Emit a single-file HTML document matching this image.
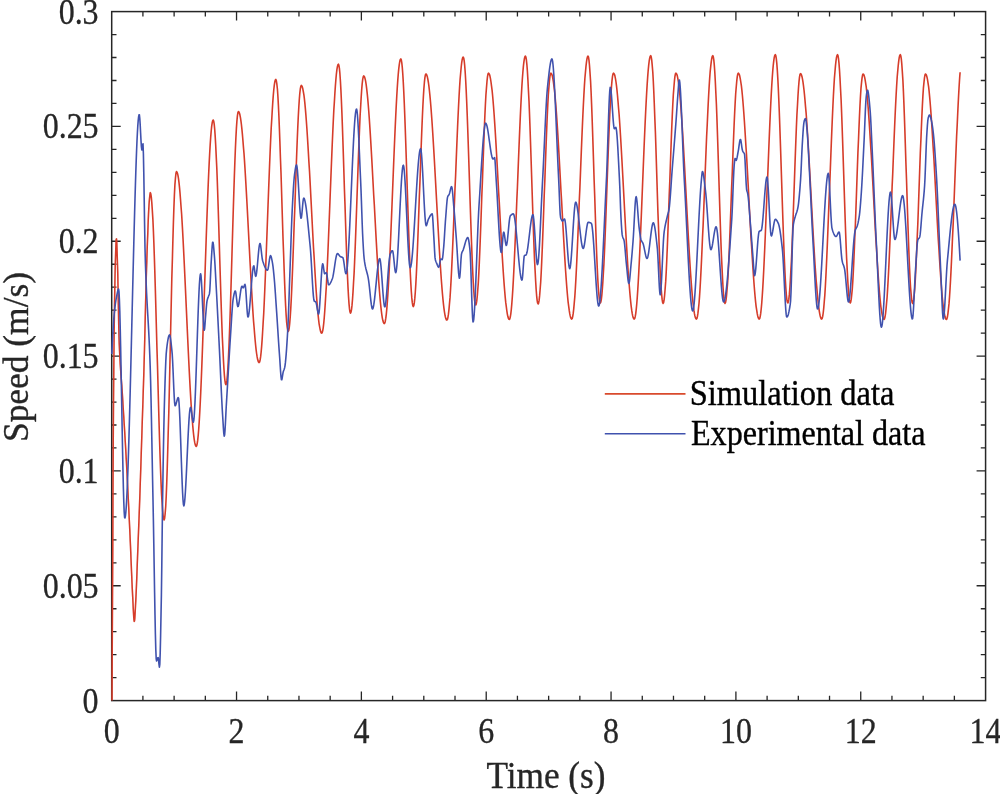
<!DOCTYPE html>
<html><head><meta charset="utf-8"><style>html,body{margin:0;padding:0;background:#fff;width:1000px;height:794px;overflow:hidden}svg{display:block}</style></head>
<body><svg width="1000" height="794" viewBox="0 0 1000 794"><rect x="0" y="0" width="1000" height="794" fill="#fff"/><path d="M142.91 700.60V695.80M142.91 11.59V16.39M174.12 700.60V695.80M174.12 11.59V16.39M205.33 700.60V695.80M205.33 11.59V16.39M236.54 700.60V691.60M236.54 11.59V20.59M267.75 700.60V695.80M267.75 11.59V16.39M298.96 700.60V695.80M298.96 11.59V16.39M330.17 700.60V695.80M330.17 11.59V16.39M361.38 700.60V691.60M361.38 11.59V20.59M392.59 700.60V695.80M392.59 11.59V16.39M423.80 700.60V695.80M423.80 11.59V16.39M455.01 700.60V695.80M455.01 11.59V16.39M486.22 700.60V691.60M486.22 11.59V20.59M517.43 700.60V695.80M517.43 11.59V16.39M548.64 700.60V695.80M548.64 11.59V16.39M579.85 700.60V695.80M579.85 11.59V16.39M611.06 700.60V691.60M611.06 11.59V20.59M642.27 700.60V695.80M642.27 11.59V16.39M673.48 700.60V695.80M673.48 11.59V16.39M704.69 700.60V695.80M704.69 11.59V16.39M735.90 700.60V691.60M735.90 11.59V20.59M767.11 700.60V695.80M767.11 11.59V16.39M798.32 700.60V695.80M798.32 11.59V16.39M829.53 700.60V695.80M829.53 11.59V16.39M860.74 700.60V691.60M860.74 11.59V20.59M891.95 700.60V695.80M891.95 11.59V16.39M923.16 700.60V695.80M923.16 11.59V16.39M954.37 700.60V695.80M954.37 11.59V16.39M111.70 677.63H116.50M985.58 677.63H980.78M111.70 654.67H116.50M985.58 654.67H980.78M111.70 631.70H116.50M985.58 631.70H980.78M111.70 608.73H116.50M985.58 608.73H980.78M111.70 585.76H120.70M985.58 585.76H976.58M111.70 562.80H116.50M985.58 562.80H980.78M111.70 539.83H116.50M985.58 539.83H980.78M111.70 516.86H116.50M985.58 516.86H980.78M111.70 493.90H116.50M985.58 493.90H980.78M111.70 470.93H120.70M985.58 470.93H976.58M111.70 447.96H116.50M985.58 447.96H980.78M111.70 425.00H116.50M985.58 425.00H980.78M111.70 402.03H116.50M985.58 402.03H980.78M111.70 379.06H116.50M985.58 379.06H980.78M111.70 356.10H120.70M985.58 356.10H976.58M111.70 333.13H116.50M985.58 333.13H980.78M111.70 310.16H116.50M985.58 310.16H980.78M111.70 287.19H116.50M985.58 287.19H980.78M111.70 264.23H116.50M985.58 264.23H980.78M111.70 241.26H120.70M985.58 241.26H976.58M111.70 218.29H116.50M985.58 218.29H980.78M111.70 195.33H116.50M985.58 195.33H980.78M111.70 172.36H116.50M985.58 172.36H980.78M111.70 149.39H116.50M985.58 149.39H980.78M111.70 126.43H120.70M985.58 126.43H976.58M111.70 103.46H116.50M985.58 103.46H980.78M111.70 80.49H116.50M985.58 80.49H980.78M111.70 57.52H116.50M985.58 57.52H980.78M111.70 34.56H116.50M985.58 34.56H980.78" stroke="#262626" stroke-width="1.3" fill="none"/><rect x="111.70" y="11.59" width="873.88" height="689.01" fill="none" stroke="#262626" stroke-width="1.5"/><path d="M112.0 700.6 112.2 650.1 112.5 600.5 112.8 549.1 113.0 490.7 113.2 442.7 113.5 403.2 113.8 372.5 114.0 347.1 114.2 325.8 114.5 307.3 114.8 290.6 115.0 276.5 115.2 266.2 115.5 257.4 115.8 249.4 116.0 243.1 116.2 239.3 116.5 238.9 116.8 242.3 117.0 248.5 117.2 256.3 117.5 264.7 117.8 273.6 118.0 285.5 118.2 299.3 118.5 313.6 118.8 326.7 119.0 337.0 119.2 343.8 119.5 349.7 119.8 355.0 120.0 359.8 120.2 364.1 120.5 368.1 120.8 371.8 121.0 375.3 121.2 378.7 121.5 382.1 121.8 385.4 122.0 388.9 122.2 392.5 122.5 396.4 122.8 400.5 123.0 404.6 123.2 408.7 123.5 412.7 123.8 416.7 124.0 420.8 124.2 424.8 124.5 428.9 124.8 433.0 125.0 437.1 125.2 441.3 125.5 445.6 125.8 449.9 126.0 454.4 126.2 458.9 126.5 463.5 126.8 468.2 127.0 473.0 127.2 477.9 127.5 482.8 127.8 487.8 128.0 492.9 128.2 498.0 128.5 503.1 128.8 508.3 129.0 513.6 129.2 518.9 129.5 524.2 129.8 529.6 130.0 535.0 130.2 540.6 130.5 546.4 130.8 552.5 131.0 558.7 131.2 564.8 131.5 571.0 131.8 576.9 132.0 582.7 132.2 588.1 132.5 593.1 132.8 597.9 133.0 603.0 133.2 608.2 133.5 613.1 133.8 617.2 134.0 620.1 134.2 621.5 134.5 620.9 134.8 618.6 135.0 615.1 135.2 610.7 135.5 605.8 135.8 600.9 136.0 596.1 136.2 590.8 136.5 584.8 136.8 578.4 137.0 571.7 137.2 564.8 137.5 558.0 137.8 551.3 138.0 544.9 138.2 538.4 138.5 532.0 138.8 525.6 139.0 519.0 139.2 512.4 139.5 505.6 139.8 498.6 140.0 491.4 140.2 484.1 140.5 476.5 140.8 468.9 141.0 461.2 141.2 453.4 141.5 445.6 141.8 437.8 142.0 430.0 142.2 422.3 142.5 414.6 142.8 407.0 143.0 399.3 143.2 391.5 143.5 383.6 143.8 375.4 144.0 367.0 144.2 358.2 144.5 348.7 144.8 338.6 145.0 328.2 145.2 317.5 145.5 307.0 145.8 296.7 146.0 287.1 146.2 278.3 146.5 270.0 146.8 262.1 147.0 254.5 147.2 247.2 147.5 240.3 147.8 233.7 148.0 227.0 148.2 220.5 148.5 214.4 148.8 209.1 149.0 205.0 149.2 201.7 149.5 198.7 149.8 196.1 150.0 194.1 150.2 192.9 150.3 192.7 150.8 193.8 151.3 197.1 151.8 202.6 152.3 210.1 152.9 219.6 153.4 231.0 153.9 244.0 154.4 258.6 154.9 274.5 155.4 291.5 155.9 309.4 156.4 327.9 156.9 346.8 157.5 365.9 158.0 384.8 158.5 403.3 159.0 421.2 159.5 438.2 160.0 454.1 160.5 468.7 161.0 481.7 161.5 493.1 162.1 502.6 162.6 510.1 163.1 515.6 163.6 518.9 164.1 520.0 164.6 518.5 165.1 514.1 165.7 506.7 166.2 496.7 166.7 484.0 167.2 469.0 167.7 451.8 168.2 432.9 168.8 412.5 169.3 390.9 169.8 368.5 170.3 345.8 170.8 323.1 171.3 300.7 171.8 279.1 172.4 258.7 172.9 239.8 173.4 222.6 173.9 207.6 174.4 194.9 174.9 184.9 175.5 177.5 176.0 173.1 176.5 171.6 177.0 172.0 177.5 173.4 178.0 175.6 178.5 178.7 179.0 182.6 179.5 187.3 180.0 192.9 180.5 199.2 181.0 206.2 181.6 213.8 182.1 222.1 182.6 230.9 183.1 240.3 183.6 250.1 184.1 260.3 184.6 270.8 185.1 281.5 185.6 292.4 186.1 303.5 186.6 314.5 187.1 325.6 187.6 336.5 188.1 347.2 188.6 357.7 189.1 367.9 189.6 377.7 190.1 387.1 190.6 395.9 191.1 404.2 191.7 411.8 192.2 418.8 192.7 425.1 193.2 430.7 193.7 435.4 194.2 439.3 194.7 442.4 195.2 444.6 195.7 446.0 196.2 446.4 196.7 445.7 197.2 443.6 197.7 440.2 198.2 435.4 198.7 429.3 199.2 422.0 199.7 413.4 200.2 403.8 200.7 393.1 201.2 381.5 201.7 369.1 202.2 355.9 202.7 342.2 203.2 327.9 203.7 313.2 204.2 298.3 204.7 283.2 205.2 268.1 205.7 253.2 206.2 238.5 206.7 224.2 207.2 210.5 207.7 197.3 208.2 184.9 208.7 173.3 209.2 162.6 209.7 153.0 210.2 144.4 210.7 137.1 211.2 131.0 211.7 126.2 212.2 122.8 212.7 120.7 213.2 120.0 213.7 121.0 214.2 124.2 214.7 129.3 215.2 136.4 215.7 145.3 216.2 155.9 216.8 168.0 217.3 181.4 217.8 196.0 218.3 211.5 218.8 227.6 219.3 244.0 219.8 260.7 220.3 277.1 220.8 293.2 221.3 308.7 221.8 323.3 222.3 336.7 222.9 348.8 223.4 359.4 223.9 368.3 224.4 375.4 224.9 380.5 225.4 383.7 225.9 384.7 226.4 383.6 226.9 380.4 227.4 375.1 227.9 367.8 228.4 358.6 228.9 347.7 229.4 335.2 229.9 321.3 230.4 306.3 230.9 290.3 231.4 273.7 231.9 256.7 232.4 239.5 232.9 222.5 233.4 205.9 233.9 189.9 234.4 174.9 234.9 161.0 235.4 148.5 235.9 137.6 236.4 128.4 236.9 121.1 237.4 115.8 237.9 112.6 238.4 111.5 238.9 111.9 239.4 113.0 239.9 114.8 240.4 117.4 240.9 120.6 241.4 124.5 241.9 129.1 242.4 134.4 242.9 140.2 243.4 146.6 244.0 153.5 244.5 160.9 245.0 168.8 245.5 177.1 246.0 185.7 246.5 194.6 247.0 203.8 247.5 213.1 248.0 222.7 248.5 232.2 249.0 241.9 249.5 251.4 250.0 261.0 250.5 270.3 251.0 279.5 251.5 288.4 252.0 297.0 252.5 305.3 253.0 313.2 253.5 320.6 254.1 327.5 254.6 333.9 255.1 339.7 255.6 345.0 256.1 349.6 256.6 353.5 257.1 356.7 257.6 359.3 258.1 361.1 258.6 362.2 259.1 362.6 259.6 362.0 260.1 360.0 260.6 356.9 261.1 352.5 261.6 346.9 262.1 340.1 262.6 332.3 263.1 323.5 263.7 313.7 264.2 303.1 264.7 291.8 265.2 279.8 265.7 267.3 266.2 254.4 266.7 241.2 267.2 227.7 267.7 214.3 268.2 200.8 268.7 187.6 269.2 174.7 269.7 162.2 270.2 150.2 270.7 138.9 271.2 128.3 271.8 118.5 272.3 109.7 272.8 101.9 273.3 95.1 273.8 89.5 274.3 85.1 274.8 82.0 275.3 80.0 275.8 79.4 276.3 80.5 276.8 83.7 277.4 89.0 277.9 96.3 278.4 105.4 278.9 116.3 279.4 128.7 279.9 142.4 280.4 157.2 281.0 172.8 281.5 189.0 282.0 205.4 282.5 221.8 283.0 238.0 283.6 253.6 284.1 268.4 284.6 282.1 285.1 294.5 285.6 305.4 286.1 314.5 286.6 321.8 287.2 327.1 287.7 330.3 288.2 331.4 288.7 330.5 289.2 327.8 289.7 323.4 290.2 317.3 290.7 309.6 291.2 300.5 291.7 290.0 292.2 278.3 292.7 265.6 293.2 252.0 293.7 237.8 294.2 223.2 294.8 208.4 295.3 193.6 295.8 179.0 296.3 164.8 296.8 151.2 297.3 138.5 297.8 126.8 298.3 116.3 298.8 107.2 299.3 99.5 299.8 93.4 300.3 89.0 300.8 86.3 301.3 85.4 301.8 85.8 302.3 86.9 302.8 88.8 303.3 91.5 303.9 94.8 304.4 98.9 304.9 103.7 305.4 109.1 305.9 115.1 306.4 121.7 306.9 128.8 307.4 136.5 307.9 144.6 308.4 153.1 308.9 161.9 309.5 171.0 310.0 180.4 310.5 189.9 311.0 199.6 311.5 209.3 312.0 219.0 312.5 228.7 313.0 238.2 313.5 247.6 314.1 256.7 314.6 265.5 315.1 274.0 315.6 282.1 316.1 289.8 316.6 296.9 317.1 303.5 317.6 309.5 318.1 314.9 318.6 319.7 319.1 323.8 319.7 327.1 320.2 329.8 320.7 331.7 321.2 332.8 321.7 333.2 322.2 332.6 322.7 330.8 323.2 327.8 323.7 323.6 324.2 318.2 324.7 311.8 325.2 304.4 325.7 296.0 326.3 286.8 326.8 276.7 327.3 265.9 327.8 254.6 328.3 242.7 328.8 230.4 329.3 217.8 329.8 205.1 330.3 192.3 330.8 179.6 331.3 167.0 331.8 154.7 332.3 142.8 332.8 131.5 333.3 120.7 333.8 110.6 334.4 101.4 334.9 93.0 335.4 85.6 335.9 79.2 336.4 73.8 336.9 69.6 337.4 66.6 337.9 64.8 338.4 64.2 338.9 65.3 339.4 68.4 339.9 73.7 340.4 80.9 340.9 89.9 341.4 100.7 341.9 112.9 342.4 126.4 342.9 141.0 343.4 156.4 343.9 172.4 344.4 188.7 345.0 204.9 345.5 220.9 346.0 236.3 346.5 250.9 347.0 264.4 347.5 276.6 348.0 287.4 348.5 296.4 349.0 303.6 349.5 308.9 350.0 312.0 350.5 313.1 351.0 312.2 351.5 309.7 352.0 305.4 352.5 299.5 353.0 292.1 353.5 283.3 354.1 273.1 354.6 261.9 355.1 249.6 355.6 236.6 356.1 222.9 356.6 208.8 357.1 194.5 357.6 180.2 358.1 166.1 358.6 152.4 359.1 139.4 359.6 127.1 360.1 115.9 360.7 105.7 361.2 96.9 361.7 89.5 362.2 83.6 362.7 79.3 363.2 76.8 363.7 75.9 364.2 76.3 364.7 77.4 365.2 79.2 365.7 81.7 366.2 84.9 366.7 88.8 367.2 93.3 367.7 98.4 368.2 104.2 368.7 110.5 369.2 117.3 369.7 124.7 370.2 132.4 370.7 140.6 371.2 149.1 371.7 157.9 372.2 166.9 372.7 176.2 373.2 185.5 373.7 195.0 374.3 204.5 374.8 214.0 375.3 223.3 375.8 232.6 376.3 241.6 376.8 250.4 377.3 258.9 377.8 267.1 378.3 274.8 378.8 282.2 379.3 289.0 379.8 295.3 380.3 301.1 380.8 306.2 381.3 310.7 381.8 314.6 382.3 317.8 382.8 320.3 383.3 322.1 383.8 323.2 384.3 323.6 384.8 323.0 385.3 321.2 385.8 318.2 386.3 314.1 386.8 308.9 387.3 302.6 387.8 295.3 388.3 287.0 388.8 277.9 389.3 268.0 389.8 257.4 390.3 246.2 390.8 234.5 391.3 222.5 391.8 210.1 392.3 197.5 392.8 185.0 393.3 172.4 393.8 160.0 394.3 148.0 394.8 136.3 395.3 125.1 395.8 114.5 396.3 104.6 396.8 95.5 397.3 87.2 397.8 79.9 398.3 73.6 398.8 68.4 399.3 64.3 399.8 61.3 400.3 59.5 400.8 58.9 401.3 59.9 401.8 62.8 402.3 67.6 402.8 74.2 403.3 82.6 403.8 92.5 404.3 103.8 404.8 116.4 405.3 130.0 405.8 144.5 406.3 159.5 406.8 175.0 407.3 190.5 407.8 206.0 408.3 221.0 408.8 235.5 409.3 249.1 409.8 261.7 410.3 273.0 410.8 282.9 411.3 291.3 411.8 297.9 412.3 302.7 412.8 305.6 413.3 306.6 413.8 305.7 414.3 302.9 414.8 298.4 415.3 292.2 415.8 284.4 416.3 275.1 416.8 264.4 417.3 252.6 417.8 239.8 418.3 226.2 418.8 212.1 419.3 197.6 419.9 183.0 420.4 168.5 420.9 154.4 421.4 140.8 421.9 128.0 422.4 116.2 422.9 105.5 423.4 96.2 423.9 88.4 424.4 82.2 424.9 77.7 425.4 74.9 425.9 74.0 426.4 74.3 426.9 75.4 427.4 77.1 427.9 79.5 428.4 82.5 428.9 86.2 429.4 90.5 429.9 95.4 430.4 100.8 430.9 106.8 431.4 113.4 431.9 120.3 432.4 127.7 432.9 135.5 433.4 143.7 433.9 152.1 434.4 160.8 434.9 169.7 435.4 178.7 435.9 187.9 436.4 197.1 436.9 206.2 437.4 215.4 437.9 224.4 438.4 233.3 438.9 242.0 439.4 250.4 439.9 258.6 440.4 266.4 440.9 273.8 441.4 280.7 441.9 287.3 442.4 293.3 442.9 298.7 443.4 303.6 443.9 307.9 444.4 311.6 444.9 314.6 445.4 317.0 445.9 318.7 446.4 319.8 446.9 320.1 447.4 319.5 447.9 317.6 448.4 314.4 448.9 310.1 449.4 304.6 450.0 297.9 450.5 290.2 451.0 281.6 451.5 272.0 452.0 261.6 452.5 250.6 453.0 238.9 453.5 226.7 454.0 214.2 454.5 201.4 455.0 188.6 455.6 175.7 456.1 162.9 456.6 150.4 457.1 138.2 457.6 126.5 458.1 115.5 458.6 105.1 459.1 95.5 459.6 86.9 460.1 79.2 460.7 72.5 461.2 67.0 461.7 62.7 462.2 59.5 462.7 57.6 463.2 57.0 463.7 58.0 464.2 60.9 464.7 65.7 465.2 72.3 465.7 80.7 466.2 90.6 466.7 102.0 467.2 114.6 467.7 128.2 468.2 142.7 468.7 157.8 469.2 173.2 469.7 188.8 470.2 204.2 470.7 219.3 471.2 233.8 471.7 247.4 472.2 260.0 472.7 271.4 473.2 281.3 473.7 289.7 474.2 296.3 474.7 301.1 475.2 304.0 475.7 305.0 476.2 304.1 476.7 301.4 477.2 296.9 477.7 290.7 478.3 282.9 478.8 273.6 479.3 263.0 479.8 251.2 480.3 238.4 480.8 224.9 481.3 210.8 481.8 196.3 482.4 181.8 482.9 167.3 483.4 153.2 483.9 139.7 484.4 126.9 484.9 115.1 485.4 104.5 485.9 95.2 486.5 87.4 487.0 81.2 487.5 76.7 488.0 74.0 488.5 73.1 489.0 73.5 489.5 74.5 490.0 76.3 490.5 78.8 491.0 82.0 491.5 85.9 492.1 90.4 492.6 95.5 493.1 101.3 493.6 107.5 494.1 114.3 494.6 121.6 495.1 129.3 495.6 137.4 496.1 145.9 496.6 154.7 497.1 163.7 497.6 172.8 498.1 182.2 498.6 191.6 499.2 201.0 499.7 210.4 500.2 219.8 500.7 228.9 501.2 237.9 501.7 246.7 502.2 255.2 502.7 263.3 503.2 271.0 503.7 278.3 504.2 285.1 504.7 291.3 505.2 297.1 505.7 302.2 506.3 306.7 506.8 310.6 507.3 313.8 507.8 316.3 508.3 318.1 508.8 319.1 509.3 319.5 509.8 318.9 510.3 317.0 510.8 313.8 511.3 309.5 511.8 303.9 512.3 297.3 512.8 289.6 513.3 280.9 513.8 271.3 514.3 261.0 514.8 249.9 515.3 238.2 515.8 226.0 516.3 213.5 516.8 200.7 517.4 187.8 517.9 174.9 518.4 162.1 518.9 149.6 519.4 137.4 519.9 125.7 520.4 114.6 520.9 104.3 521.4 94.7 521.9 86.0 522.4 78.3 522.9 71.7 523.4 66.1 523.9 61.8 524.4 58.6 524.9 56.7 525.4 56.1 525.9 57.1 526.4 60.0 526.9 64.8 527.4 71.4 527.9 79.8 528.4 89.7 529.0 101.0 529.5 113.6 530.0 127.3 530.5 141.7 531.0 156.8 531.5 172.3 532.0 187.8 532.5 203.3 533.0 218.4 533.5 232.8 534.0 246.5 534.5 259.1 535.1 270.4 535.6 280.3 536.1 288.7 536.6 295.3 537.1 300.1 537.6 303.0 538.1 304.0 538.6 303.1 539.1 300.4 539.6 295.9 540.1 289.7 540.7 282.0 541.2 272.7 541.7 262.1 542.2 250.4 542.7 237.7 543.2 224.2 543.7 210.2 544.2 195.8 544.8 181.3 545.3 166.9 545.8 152.9 546.3 139.4 546.8 126.7 547.3 115.0 547.8 104.4 548.3 95.1 548.9 87.4 549.4 81.2 549.9 76.7 550.4 74.0 550.9 73.1 551.4 73.5 551.9 74.5 552.4 76.3 552.9 78.8 553.4 82.0 553.9 85.9 554.5 90.4 555.0 95.5 555.5 101.2 556.0 107.5 556.5 114.3 557.0 121.5 557.5 129.2 558.0 137.3 558.5 145.8 559.0 154.5 559.5 163.5 560.0 172.7 560.5 182.0 561.0 191.4 561.6 200.8 562.1 210.2 562.6 219.5 563.1 228.7 563.6 237.7 564.1 246.4 564.6 254.9 565.1 263.0 565.6 270.7 566.1 277.9 566.6 284.7 567.1 291.0 567.6 296.7 568.1 301.8 568.7 306.3 569.2 310.2 569.7 313.4 570.2 315.9 570.7 317.7 571.2 318.7 571.7 319.1 572.2 318.5 572.7 316.6 573.2 313.4 573.7 309.1 574.2 303.6 574.8 296.9 575.3 289.3 575.8 280.6 576.3 271.0 576.8 260.7 577.3 249.6 577.8 237.9 578.3 225.8 578.8 213.3 579.3 200.5 579.9 187.6 580.4 174.7 580.9 161.9 581.4 149.4 581.9 137.3 582.4 125.6 582.9 114.5 583.4 104.2 583.9 94.6 584.4 85.9 584.9 78.3 585.5 71.6 586.0 66.1 586.5 61.8 587.0 58.6 587.5 56.7 588.0 56.1 588.5 57.2 589.0 60.3 589.5 65.5 590.0 72.6 590.6 81.6 591.1 92.3 591.6 104.4 592.1 117.8 592.6 132.3 593.1 147.6 593.6 163.4 594.1 179.5 594.7 195.7 595.2 211.5 595.7 226.8 596.2 241.3 596.7 254.7 597.2 266.8 597.7 277.5 598.2 286.5 598.8 293.6 599.3 298.8 599.8 301.9 600.3 303.0 600.8 302.2 601.3 299.7 601.8 295.5 602.3 289.8 602.8 282.7 603.3 274.1 603.9 264.3 604.4 253.3 604.9 241.5 605.4 228.8 605.9 215.6 606.4 201.9 606.9 188.1 607.4 174.2 607.9 160.5 608.4 147.3 608.9 134.6 609.4 122.8 609.9 111.8 610.5 102.0 611.0 93.4 611.5 86.3 612.0 80.6 612.5 76.4 613.0 73.9 613.5 73.1 614.0 73.5 614.5 74.5 615.0 76.3 615.5 78.8 616.0 82.0 616.5 85.9 617.0 90.4 617.5 95.5 618.0 101.2 618.5 107.5 619.1 114.3 619.6 121.5 620.1 129.2 620.6 137.3 621.1 145.8 621.6 154.5 622.1 163.5 622.6 172.7 623.1 182.0 623.6 191.4 624.1 200.8 624.6 210.2 625.1 219.5 625.6 228.7 626.1 237.7 626.6 246.4 627.1 254.9 627.6 263.0 628.1 270.7 628.6 277.9 629.2 284.7 629.7 291.0 630.2 296.7 630.7 301.8 631.2 306.3 631.7 310.2 632.2 313.4 632.7 315.9 633.2 317.7 633.7 318.7 634.2 319.1 634.7 318.5 635.2 316.7 635.7 313.8 636.2 309.7 636.7 304.5 637.2 298.2 637.7 290.9 638.2 282.7 638.7 273.6 639.2 263.8 639.7 253.3 640.2 242.1 640.7 230.5 641.2 218.4 641.7 206.1 642.2 193.7 642.7 181.1 643.2 168.7 643.7 156.4 644.2 144.3 644.7 132.7 645.2 121.6 645.7 111.0 646.2 101.2 646.7 92.1 647.2 83.9 647.7 76.6 648.2 70.3 648.7 65.1 649.2 61.0 649.7 58.1 650.2 56.3 650.7 55.7 651.2 56.8 651.7 59.9 652.2 65.1 652.8 72.3 653.3 81.3 653.8 92.0 654.3 104.2 654.8 117.6 655.4 132.2 655.9 147.5 656.4 163.4 656.9 179.5 657.4 195.7 657.9 211.6 658.5 226.9 659.0 241.5 659.5 254.9 660.0 267.1 660.5 277.8 661.0 286.8 661.6 294.0 662.1 299.2 662.6 302.3 663.1 303.4 663.6 302.5 664.1 299.8 664.6 295.3 665.1 289.2 665.7 281.4 666.2 272.2 666.7 261.6 667.2 250.0 667.7 237.3 668.2 223.8 668.7 209.8 669.2 195.5 669.8 181.0 670.3 166.7 670.8 152.7 671.3 139.2 671.8 126.5 672.3 114.9 672.8 104.3 673.3 95.1 673.9 87.3 674.4 81.2 674.9 76.7 675.4 74.0 675.9 73.1 676.4 73.5 676.9 74.5 677.4 76.3 677.9 78.8 678.4 82.0 678.9 85.9 679.4 90.4 679.9 95.5 680.4 101.2 680.9 107.5 681.4 114.3 681.9 121.5 682.4 129.2 682.9 137.3 683.4 145.8 683.9 154.5 684.4 163.5 684.9 172.7 685.4 182.0 685.9 191.4 686.4 200.8 686.9 210.2 687.4 219.5 687.9 228.7 688.4 237.7 688.9 246.4 689.4 254.9 689.9 263.0 690.4 270.7 690.9 277.9 691.4 284.7 691.9 291.0 692.4 296.7 692.9 301.8 693.4 306.3 693.9 310.2 694.4 313.4 694.9 315.9 695.4 317.7 695.9 318.7 696.4 319.1 696.9 318.5 697.4 316.6 697.9 313.4 698.4 309.1 699.0 303.5 699.5 296.9 700.0 289.2 700.5 280.5 701.0 270.9 701.5 260.6 702.0 249.5 702.5 237.8 703.1 225.6 703.6 213.1 704.1 200.3 704.6 187.4 705.1 174.5 705.6 161.7 706.1 149.2 706.6 137.0 707.2 125.3 707.7 114.2 708.2 103.9 708.7 94.3 709.2 85.6 709.7 77.9 710.2 71.3 710.8 65.7 711.3 61.4 711.8 58.2 712.3 56.3 712.8 55.7 713.3 56.8 713.8 59.9 714.3 65.1 714.8 72.3 715.3 81.3 715.8 92.0 716.4 104.2 716.9 117.6 717.4 132.2 717.9 147.5 718.4 163.4 718.9 179.5 719.4 195.7 719.9 211.6 720.4 226.9 720.9 241.5 721.4 254.9 722.0 267.1 722.5 277.8 723.0 286.8 723.5 294.0 724.0 299.2 724.5 302.3 725.0 303.4 725.5 302.6 726.0 300.1 726.5 295.9 727.0 290.2 727.6 283.0 728.1 274.4 728.6 264.6 729.1 253.7 729.6 241.8 730.1 229.1 730.6 215.8 731.1 202.1 731.6 188.2 732.2 174.4 732.7 160.7 733.2 147.4 733.7 134.7 734.2 122.8 734.7 111.9 735.2 102.1 735.7 93.5 736.3 86.3 736.8 80.6 737.3 76.4 737.8 73.9 738.3 73.1 738.8 73.5 739.3 74.5 739.8 76.3 740.3 78.8 740.8 82.0 741.4 85.9 741.9 90.4 742.4 95.5 742.9 101.2 743.4 107.5 743.9 114.3 744.4 121.5 744.9 129.2 745.4 137.3 745.9 145.8 746.5 154.5 747.0 163.5 747.5 172.7 748.0 182.0 748.5 191.4 749.0 200.8 749.5 210.2 750.0 219.5 750.5 228.7 751.0 237.7 751.6 246.4 752.1 254.9 752.6 263.0 753.1 270.7 753.6 277.9 754.1 284.7 754.6 291.0 755.1 296.7 755.6 301.8 756.1 306.3 756.7 310.2 757.2 313.4 757.7 315.9 758.2 317.7 758.7 318.7 759.2 319.1 759.7 318.5 760.2 316.6 760.7 313.4 761.2 309.0 761.7 303.5 762.2 296.8 762.7 289.1 763.2 280.4 763.7 270.8 764.2 260.3 764.7 249.2 765.2 237.5 765.7 225.3 766.2 212.7 766.7 199.9 767.2 186.9 767.8 173.9 768.3 161.1 768.8 148.5 769.3 136.3 769.8 124.6 770.3 113.5 770.8 103.0 771.3 93.4 771.8 84.7 772.3 77.0 772.8 70.3 773.3 64.8 773.8 60.4 774.3 57.2 774.8 55.3 775.3 54.7 775.8 55.7 776.3 58.6 776.8 63.4 777.3 70.1 777.8 78.4 778.3 88.3 778.8 99.7 779.3 112.3 779.8 126.0 780.3 140.5 780.8 155.6 781.3 171.1 781.8 186.6 782.3 202.1 782.8 217.2 783.3 231.7 783.8 245.4 784.3 258.0 784.8 269.4 785.3 279.3 785.8 287.6 786.3 294.3 786.8 299.1 787.3 302.0 787.8 303.0 788.3 302.1 788.8 299.4 789.3 294.9 789.8 288.8 790.3 281.1 790.8 271.9 791.4 261.4 791.9 249.8 792.4 237.1 792.9 223.7 793.4 209.8 793.9 195.5 794.4 181.1 794.9 166.8 795.4 152.9 795.9 139.5 796.4 126.8 796.9 115.2 797.5 104.7 798.0 95.5 798.5 87.8 799.0 81.7 799.5 77.2 800.0 74.5 800.5 73.6 801.0 73.9 801.5 75.0 802.0 76.7 802.5 79.1 803.0 82.1 803.5 85.8 804.0 90.0 804.5 94.9 805.0 100.4 805.5 106.4 806.1 112.9 806.6 119.8 807.1 127.2 807.6 135.0 808.1 143.1 808.6 151.5 809.1 160.2 809.6 169.0 810.1 178.1 810.6 187.2 811.1 196.3 811.6 205.5 812.1 214.6 812.6 223.7 813.1 232.5 813.6 241.2 814.1 249.6 814.6 257.7 815.1 265.5 815.6 272.9 816.1 279.8 816.7 286.3 817.2 292.3 817.7 297.8 818.2 302.7 818.7 306.9 819.2 310.6 819.7 313.6 820.2 316.0 820.7 317.7 821.2 318.8 821.7 319.1 822.2 318.4 822.7 316.4 823.2 313.0 823.7 308.4 824.2 302.5 824.8 295.4 825.3 287.2 825.8 278.0 826.3 267.8 826.8 256.8 827.3 245.1 827.8 232.8 828.3 220.0 828.8 206.9 829.3 193.6 829.9 180.2 830.4 166.9 830.9 153.8 831.4 141.0 831.9 128.7 832.4 117.0 832.9 106.0 833.4 95.8 833.9 86.6 834.4 78.4 835.0 71.3 835.5 65.4 836.0 60.8 836.5 57.4 837.0 55.4 837.5 54.7 838.0 55.7 838.5 58.6 839.0 63.4 839.5 70.1 840.0 78.4 840.5 88.3 841.1 99.7 841.6 112.3 842.1 126.0 842.6 140.5 843.1 155.6 843.6 171.1 844.1 186.6 844.6 202.1 845.1 217.2 845.6 231.7 846.1 245.4 846.6 258.0 847.2 269.4 847.7 279.3 848.2 287.6 848.7 294.3 849.2 299.1 849.7 302.0 850.2 303.0 850.7 302.1 851.2 299.4 851.7 295.0 852.3 288.8 852.8 281.1 853.3 272.0 853.8 261.5 854.3 249.9 854.8 237.3 855.4 223.9 855.9 210.0 856.4 195.7 856.9 181.3 857.4 167.0 857.9 153.1 858.5 139.7 859.0 127.1 859.5 115.5 860.0 105.0 860.5 95.9 861.0 88.2 861.6 82.0 862.1 77.6 862.6 74.9 863.1 74.0 863.6 74.4 864.1 75.4 864.6 77.2 865.1 79.7 865.6 82.9 866.2 86.7 866.7 91.2 867.2 96.3 867.7 102.0 868.2 108.3 868.7 115.1 869.2 122.3 869.7 130.0 870.2 138.1 870.7 146.5 871.3 155.3 871.8 164.2 872.3 173.4 872.8 182.7 873.3 192.0 873.8 201.5 874.3 210.8 874.8 220.1 875.3 229.3 875.8 238.2 876.4 247.0 876.9 255.4 877.4 263.5 877.9 271.2 878.4 278.4 878.9 285.2 879.4 291.5 879.9 297.2 880.4 302.3 880.9 306.8 881.5 310.6 882.0 313.8 882.5 316.3 883.0 318.1 883.5 319.1 884.0 319.5 884.5 318.9 885.0 317.0 885.5 313.8 886.0 309.4 886.5 303.9 887.1 297.2 887.6 289.4 888.1 280.7 888.6 271.1 889.1 260.7 889.6 249.5 890.1 237.8 890.6 225.5 891.1 212.9 891.6 200.1 892.1 187.1 892.7 174.1 893.2 161.3 893.7 148.7 894.2 136.4 894.7 124.7 895.2 113.5 895.7 103.1 896.2 93.5 896.7 84.8 897.2 77.0 897.8 70.3 898.3 64.8 898.8 60.4 899.3 57.2 899.8 55.3 900.3 54.7 900.8 55.8 901.3 58.9 901.8 64.2 902.3 71.4 902.9 80.4 903.4 91.1 903.9 103.4 904.4 116.9 904.9 131.5 905.4 146.9 905.9 162.8 906.5 179.0 907.0 195.3 907.5 211.2 908.0 226.6 908.5 241.2 909.0 254.7 909.5 267.0 910.0 277.7 910.5 286.7 911.1 293.9 911.6 299.2 912.1 302.3 912.6 303.4 913.1 302.5 913.6 299.8 914.1 295.3 914.7 289.2 915.2 281.5 915.7 272.3 916.2 261.8 916.7 250.2 917.2 237.5 917.8 224.1 918.3 210.2 918.8 195.9 919.3 181.5 919.8 167.2 920.3 153.3 920.9 139.9 921.4 127.2 921.9 115.6 922.4 105.1 922.9 95.9 923.4 88.2 924.0 82.1 924.5 77.6 925.0 74.9 925.5 74.0 926.0 74.4 926.5 75.4 927.0 77.2 927.5 79.7 928.0 82.9 928.6 86.7 929.1 91.2 929.6 96.3 930.1 102.0 930.6 108.3 931.1 115.1 931.6 122.3 932.1 130.0 932.6 138.1 933.1 146.5 933.7 155.3 934.2 164.2 934.7 173.4 935.2 182.7 935.7 192.0 936.2 201.5 936.7 210.8 937.2 220.1 937.7 229.3 938.2 238.2 938.8 247.0 939.3 255.4 939.8 263.5 940.3 271.2 940.8 278.4 941.3 285.2 941.8 291.5 942.3 297.2 942.8 302.3 943.3 306.8 943.9 310.6 944.4 313.8 944.9 316.3 945.4 318.1 945.9 319.1 946.4 319.5 946.9 318.9 947.4 317.0 947.9 313.8 948.4 309.4 949.0 303.9 949.5 297.2 950.0 289.5 950.5 280.8 951.0 271.1 951.5 260.7 952.0 249.6 952.5 237.9 953.1 225.6 953.6 213.1 954.1 200.2 954.6 187.3 955.1 174.3 955.6 161.4 956.1 148.9 956.6 136.6 957.2 124.9 957.7 113.8 958.2 103.4 958.7 93.7 959.2 85.0 959.7 77.3 960.1 72.3" fill="none" stroke="#D63C2A" stroke-width="1.6" stroke-linejoin="round"/><path d="M111.8 354.0 112.2 345.6 112.6 337.9 113.0 331.0 113.4 324.6 113.8 318.7 114.2 314.0 114.6 310.2 115.0 306.8 115.4 303.7 115.8 301.0 116.2 298.6 116.6 296.5 117.0 294.4 117.4 292.4 117.8 290.7 118.2 289.5 118.6 289.0 119.0 291.7 119.4 299.5 119.8 311.4 120.2 326.9 120.6 345.2 121.0 365.4 121.4 387.0 121.8 409.1 122.2 431.1 122.6 452.1 123.0 471.5 123.4 488.4 123.8 502.2 124.2 512.2 124.6 517.5 125.0 518.0 125.4 516.2 125.8 512.7 126.2 507.6 126.6 501.0 127.0 493.0 127.4 483.7 127.8 473.2 128.2 461.7 128.6 449.1 129.0 435.7 129.4 421.5 129.8 406.6 130.2 391.2 130.6 375.3 131.0 359.0 131.4 342.5 131.8 325.8 132.2 309.0 132.6 292.3 133.0 275.7 133.4 259.4 133.8 243.5 134.2 228.0 134.6 213.0 135.0 198.7 135.4 185.2 135.8 172.5 136.2 160.9 136.6 150.3 137.0 140.8 137.4 132.7 137.8 125.9 138.2 120.6 138.6 116.9 139.0 114.9 139.4 114.8 139.8 118.5 140.2 124.9 140.6 132.8 141.0 140.5 141.4 146.7 141.8 149.9 142.2 148.6 142.6 144.7 143.0 143.8 143.4 153.8 143.8 173.5 144.2 198.7 144.6 224.9 145.0 247.7 145.4 263.1 145.8 274.5 146.2 284.4 146.6 293.2 147.0 301.0 147.4 308.3 147.8 315.2 148.2 322.1 148.6 329.4 149.0 337.2 149.4 345.8 149.8 355.6 150.2 366.9 150.6 380.5 151.0 397.4 151.4 416.8 151.8 437.6 152.2 459.1 152.6 480.2 153.0 500.0 153.4 520.6 153.8 543.8 154.2 568.2 154.6 592.4 155.0 614.9 155.4 634.5 155.8 649.5 156.2 658.8 156.6 661.0 157.0 660.2 157.4 658.9 157.8 657.8 158.2 657.6 158.6 660.3 159.0 664.4 159.4 667.1 159.8 664.4 160.2 653.1 160.6 636.0 161.0 615.6 161.4 594.4 161.8 565.2 162.2 531.1 162.6 500.0 163.0 474.1 163.4 450.6 163.8 429.9 164.2 411.4 164.6 396.7 165.0 383.5 165.4 371.4 165.8 361.2 166.2 353.9 166.6 349.7 167.0 346.2 167.4 343.1 167.8 340.5 168.2 338.3 168.6 336.6 169.0 335.4 169.4 334.9 169.8 335.3 170.2 336.7 170.6 339.1 171.0 342.2 171.4 345.8 171.8 349.6 172.2 353.8 172.6 360.5 173.0 369.2 173.4 378.7 173.8 388.2 174.2 396.5 174.6 402.7 175.0 405.7 175.4 405.6 175.8 404.8 176.2 403.5 176.6 402.0 177.0 400.5 177.4 399.1 177.8 398.0 178.2 397.5 178.6 398.4 179.0 402.3 179.4 408.8 179.8 417.3 180.2 427.4 180.6 438.5 181.0 450.2 181.4 462.0 181.8 473.3 182.2 483.7 182.6 492.7 183.0 499.7 183.4 504.3 183.8 505.9 184.2 504.9 184.6 502.0 185.0 497.5 185.4 491.7 185.8 484.8 186.2 477.0 186.6 468.6 187.0 459.9 187.4 451.1 187.8 442.4 188.2 434.2 188.6 426.6 189.0 419.9 189.4 414.4 189.8 410.3 190.2 407.9 190.6 407.4 191.0 408.6 191.4 411.0 191.8 414.0 192.2 417.2 192.6 420.0 193.0 421.8 193.4 422.2 193.8 420.3 194.2 416.1 194.6 409.8 195.0 401.9 195.4 392.5 195.8 382.0 196.2 370.6 196.6 358.7 197.0 346.5 197.4 334.3 197.8 322.5 198.2 311.3 198.6 301.1 199.0 292.0 199.4 284.4 199.8 278.7 200.2 275.0 200.6 273.7 201.0 275.5 201.4 280.5 201.8 287.7 202.2 296.3 202.6 305.5 203.0 314.3 203.4 322.0 203.8 327.6 204.2 330.3 204.6 329.0 205.0 324.2 205.4 318.4 205.8 313.8 206.2 309.0 206.6 304.5 207.0 301.1 207.4 299.4 207.8 298.1 208.2 297.1 208.6 296.0 209.0 295.1 209.4 293.9 209.8 290.6 210.2 283.3 210.6 274.1 211.0 265.4 211.4 258.8 211.8 252.1 212.2 246.1 212.6 242.3 213.0 242.2 213.4 244.7 213.8 248.8 214.2 253.6 214.6 258.5 215.0 264.8 215.4 271.9 215.8 279.4 216.2 286.6 216.6 294.0 217.0 301.5 217.4 309.2 217.8 317.1 218.2 325.0 218.6 333.0 219.0 341.0 219.4 349.0 219.8 357.3 220.2 366.0 220.6 375.0 221.0 383.9 221.4 392.6 221.8 400.8 222.2 408.4 222.6 415.0 223.0 421.5 223.4 428.1 223.8 433.4 224.2 436.2 224.6 435.1 225.0 430.5 225.4 423.6 225.8 415.4 226.2 407.3 226.6 400.4 227.0 393.8 227.4 387.1 227.8 380.3 228.2 373.5 228.6 366.6 229.0 359.8 229.4 353.2 229.8 346.7 230.2 340.4 230.6 334.3 231.0 328.0 231.4 321.4 231.8 315.0 232.2 309.1 232.6 304.0 233.0 300.2 233.4 297.7 233.8 295.5 234.2 293.5 234.6 292.1 235.0 291.1 235.4 291.0 235.8 292.4 236.2 295.3 236.6 298.8 237.0 302.3 237.4 305.2 237.8 306.6 238.2 306.4 238.6 305.1 239.0 303.0 239.4 300.4 239.8 297.5 240.2 294.5 240.6 291.7 241.0 289.2 241.4 287.3 241.8 286.2 242.2 286.2 242.6 287.0 243.0 287.8 243.4 287.8 243.8 287.0 244.2 285.9 244.6 284.8 245.0 284.4 245.4 286.0 245.8 290.2 246.2 295.9 246.6 302.4 247.0 308.7 247.4 313.8 247.8 316.8 248.2 317.0 248.6 315.7 249.0 313.1 249.4 309.7 249.8 305.4 250.2 300.6 250.6 295.5 251.0 290.2 251.4 284.9 251.8 279.9 252.2 275.4 252.6 271.5 253.0 268.5 253.4 266.5 253.8 265.8 254.2 267.0 254.6 269.9 255.0 273.1 255.4 275.7 255.8 276.3 256.2 275.2 256.6 272.7 257.0 269.2 257.4 265.0 257.8 260.5 258.2 255.9 258.6 251.6 259.0 247.9 259.4 245.1 259.8 243.6 260.2 243.6 260.6 245.4 261.0 248.3 261.4 251.8 261.8 255.4 262.2 258.5 262.6 260.5 263.0 261.8 263.4 263.0 263.8 264.2 264.2 265.3 264.6 266.3 265.0 267.2 265.4 268.0 265.8 268.7 266.2 269.3 266.6 269.8 267.0 270.1 267.4 270.2 267.8 269.8 268.2 268.2 268.6 265.8 269.0 262.9 269.4 260.0 269.8 257.6 270.2 256.0 270.6 255.6 271.0 256.3 271.4 257.6 271.8 259.4 272.2 261.4 272.6 263.6 273.0 266.4 273.4 269.9 273.8 273.9 274.2 278.1 274.6 282.8 275.0 288.1 275.4 293.8 275.8 299.7 276.2 305.6 276.6 311.4 277.0 317.4 277.4 323.5 277.8 329.8 278.2 336.0 278.6 342.2 279.0 348.1 279.4 353.7 279.8 359.3 280.2 365.6 280.6 371.7 281.0 376.7 281.4 379.6 281.8 379.7 282.2 378.0 282.6 375.4 283.0 372.9 283.4 371.3 283.8 370.3 284.2 369.3 284.6 367.9 285.0 365.8 285.4 362.7 285.8 358.7 286.2 353.9 286.6 348.5 287.0 342.4 287.4 336.0 287.8 329.2 288.2 320.7 288.6 310.4 289.0 299.0 289.4 287.1 289.8 275.5 290.2 264.5 290.6 253.0 291.0 241.2 291.4 229.7 291.8 219.3 292.2 210.4 292.6 202.6 293.0 195.2 293.4 188.4 293.8 182.5 294.2 177.7 294.6 174.2 295.0 171.3 295.4 168.6 295.8 166.5 296.2 165.1 296.6 164.9 297.0 166.6 297.4 170.1 297.8 175.2 298.2 181.3 298.6 188.1 299.0 195.0 299.4 201.8 299.8 207.9 300.2 213.0 300.6 216.5 301.0 218.2 301.4 217.6 301.8 214.7 302.2 210.5 302.6 205.9 303.0 201.7 303.4 198.8 303.8 198.1 304.2 198.6 304.6 199.6 305.0 201.1 305.4 203.1 305.8 205.5 306.2 208.2 306.6 211.3 307.0 214.7 307.4 218.3 307.8 222.2 308.2 226.1 308.6 230.2 309.0 234.3 309.4 238.4 309.8 242.5 310.2 246.5 310.6 251.2 311.0 257.1 311.4 263.8 311.8 271.0 312.2 278.2 312.6 285.0 313.0 291.1 313.4 296.1 313.8 299.5 314.2 301.0 314.6 301.3 315.0 301.5 315.4 301.7 315.8 302.0 316.2 303.0 316.6 304.8 317.0 307.2 317.4 309.6 317.8 311.9 318.2 313.5 318.6 314.1 319.0 312.8 319.4 309.1 319.8 303.7 320.2 297.1 320.6 289.8 321.0 282.5 321.4 275.7 321.8 269.9 322.2 265.8 322.6 263.8 323.0 264.3 323.4 266.5 323.8 269.5 324.2 272.2 324.6 273.7 325.0 273.7 325.4 273.4 325.8 273.0 326.2 272.7 326.6 273.2 327.0 275.2 327.4 278.0 327.8 281.0 328.2 283.4 328.6 284.7 329.0 284.7 329.4 284.5 329.8 284.0 330.2 283.4 330.6 282.7 331.0 281.9 331.4 281.0 331.8 280.0 332.2 279.0 332.6 277.9 333.0 276.2 333.4 274.1 333.8 271.7 334.2 269.1 334.6 266.4 335.0 263.6 335.4 261.0 335.8 258.6 336.2 256.6 336.6 255.0 337.0 254.0 337.4 253.6 337.8 253.7 338.2 254.0 338.6 254.5 339.0 255.0 339.4 255.6 339.8 256.1 340.2 256.5 340.6 256.7 341.0 256.9 341.4 257.0 341.8 257.1 342.2 257.3 342.6 257.5 343.0 257.9 343.4 259.4 343.8 261.7 344.2 264.5 344.6 267.5 345.0 270.2 345.4 272.4 345.8 273.6 346.2 273.6 346.6 272.2 347.0 269.6 347.4 265.8 347.8 260.9 348.2 255.1 348.6 248.5 349.0 241.1 349.4 233.2 349.8 224.7 350.2 215.8 350.6 206.6 351.0 197.3 351.4 187.9 351.8 178.5 352.2 169.3 352.6 160.3 353.0 151.7 353.4 143.6 353.8 136.1 354.2 129.3 354.6 123.2 355.0 118.1 355.4 114.0 355.8 111.1 356.2 109.4 356.6 109.1 357.0 110.8 357.4 114.5 357.8 119.9 358.2 126.7 358.6 134.7 359.0 143.4 359.4 152.6 359.8 161.9 360.2 171.2 360.6 180.0 361.0 189.6 361.4 200.6 361.8 212.3 362.2 223.7 362.6 233.8 363.0 241.8 363.4 248.8 363.8 254.8 364.2 259.0 364.6 261.9 365.0 264.3 365.4 266.4 365.8 268.2 366.2 269.7 366.6 271.2 367.0 272.7 367.4 274.2 367.8 275.9 368.2 277.9 368.6 280.3 369.0 283.3 369.4 286.8 369.8 290.6 370.2 294.5 370.6 298.4 371.0 301.9 371.4 304.9 371.8 307.2 372.2 308.7 372.6 309.0 373.0 308.3 373.4 306.8 373.8 304.7 374.2 301.9 374.6 298.6 375.0 295.0 375.4 291.1 375.8 286.9 376.2 282.8 376.6 278.6 377.0 274.5 377.4 270.7 377.8 267.3 378.2 264.3 378.6 261.8 379.0 259.9 379.4 258.9 379.8 258.7 380.2 259.9 380.6 262.6 381.0 266.4 381.4 271.1 381.8 276.5 382.2 282.1 382.6 287.8 383.0 293.2 383.4 298.1 383.8 302.1 384.2 305.1 384.6 306.8 385.0 306.8 385.4 305.3 385.8 302.5 386.2 298.7 386.6 294.0 387.0 288.8 387.4 283.2 387.8 277.6 388.2 272.0 388.6 266.8 389.0 262.2 389.4 258.5 389.8 255.8 390.2 254.3 390.6 253.3 391.0 252.4 391.4 251.6 391.8 251.0 392.2 250.7 392.6 250.7 393.0 252.1 393.4 254.9 393.8 258.6 394.2 262.7 394.6 266.7 395.0 270.0 395.4 272.2 395.8 272.6 396.2 271.4 396.6 268.5 397.0 264.3 397.4 259.0 397.8 252.6 398.2 245.4 398.6 237.7 399.0 229.5 399.4 221.0 399.8 212.5 400.2 204.2 400.6 196.2 401.0 188.7 401.4 181.9 401.8 176.0 402.2 171.2 402.6 167.7 403.0 165.6 403.4 165.2 403.8 166.6 404.2 169.9 404.6 174.7 405.0 180.7 405.4 187.8 405.8 195.7 406.2 204.2 406.6 213.1 407.0 222.0 407.4 230.7 407.8 239.1 408.2 246.8 408.6 253.7 409.0 259.5 409.4 263.9 409.8 266.7 410.2 267.7 410.6 267.2 411.0 265.7 411.4 263.3 411.8 260.1 412.2 256.2 412.6 251.6 413.0 246.5 413.4 240.8 413.8 234.8 414.2 228.4 414.6 221.8 415.0 215.1 415.4 208.2 415.8 201.3 416.2 194.6 416.6 188.0 417.0 181.6 417.4 175.6 417.8 169.9 418.2 164.8 418.6 160.2 419.0 156.3 419.4 153.1 419.8 150.7 420.2 149.2 420.6 148.7 421.0 149.8 421.4 153.0 421.8 157.8 422.2 164.0 422.6 171.1 423.0 179.0 423.4 187.2 423.8 195.4 424.2 203.3 424.6 210.4 425.0 216.6 425.4 221.4 425.8 224.6 426.2 225.7 426.6 225.2 427.0 224.1 427.4 222.5 427.8 221.0 428.2 219.7 428.6 218.9 429.0 218.1 429.4 217.3 429.8 216.5 430.2 215.8 430.6 215.2 431.0 214.7 431.4 214.2 431.8 214.0 432.2 213.9 432.6 216.2 433.0 222.0 433.4 229.4 433.8 236.6 434.2 243.4 434.6 251.2 435.0 257.4 435.4 259.9 435.8 261.2 436.2 262.2 436.6 263.1 437.0 264.1 437.4 265.2 437.8 266.2 438.2 266.9 438.6 267.3 439.0 266.8 439.4 265.1 439.8 262.9 440.2 260.6 440.6 259.2 441.0 259.0 441.4 259.2 441.8 259.5 442.2 259.6 442.6 258.1 443.0 254.6 443.4 250.3 443.8 245.9 444.2 240.2 444.6 233.8 445.0 227.4 445.4 221.4 445.8 216.3 446.2 211.0 446.6 205.8 447.0 201.2 447.4 197.9 447.8 196.4 448.2 195.7 448.6 195.2 449.0 194.7 449.4 193.7 449.8 192.3 450.2 190.6 450.6 188.9 451.0 187.5 451.4 186.7 451.8 186.9 452.2 188.9 452.6 192.5 453.0 197.0 453.4 201.9 453.8 206.6 454.2 211.0 454.6 215.9 455.0 221.0 455.4 226.4 455.8 231.7 456.2 236.9 456.6 242.3 457.0 248.5 457.4 255.1 457.8 261.7 458.2 267.8 458.6 272.9 459.0 276.5 459.4 278.2 459.8 277.0 460.2 272.4 460.6 265.9 461.0 259.4 461.4 254.6 461.8 252.8 462.2 251.9 462.6 251.2 463.0 250.4 463.4 249.3 463.8 248.0 464.2 246.7 464.6 245.3 465.0 243.8 465.4 242.4 465.8 241.1 466.2 240.0 466.6 239.0 467.0 238.2 467.4 237.7 467.8 237.5 468.2 238.1 468.6 239.7 469.0 242.1 469.4 245.1 469.8 248.4 470.2 253.2 470.6 261.9 471.0 273.3 471.4 286.0 471.8 298.5 472.2 309.6 472.6 317.9 473.0 321.9 473.4 321.5 473.8 318.8 474.2 314.2 474.6 307.9 475.0 300.4 475.4 291.7 475.8 282.1 476.2 271.9 476.6 261.4 477.0 250.9 477.4 240.5 477.8 230.5 478.2 221.2 478.6 212.9 479.0 205.8 479.4 199.6 479.8 193.2 480.2 186.6 480.6 180.0 481.0 173.3 481.4 166.7 481.8 160.3 482.2 154.2 482.6 148.3 483.0 142.9 483.4 137.9 483.8 133.6 484.2 129.9 484.6 126.9 485.0 124.7 485.4 123.5 485.8 123.2 486.2 123.7 486.6 124.7 487.0 126.1 487.4 128.0 487.8 130.2 488.2 132.7 488.6 135.4 489.0 138.3 489.4 141.2 489.8 144.0 490.2 146.9 490.6 149.6 491.0 152.1 491.4 154.3 491.8 156.2 492.2 157.6 492.6 158.6 493.0 159.1 493.4 158.9 493.8 158.4 494.2 157.9 494.6 157.6 495.0 160.0 495.4 166.0 495.8 173.3 496.2 180.0 496.6 186.1 497.0 192.8 497.4 200.1 497.8 207.6 498.2 215.2 498.6 222.6 499.0 229.6 499.4 236.1 499.8 241.8 500.2 246.5 500.6 250.0 501.0 252.1 501.4 252.5 501.8 250.3 502.2 246.1 502.6 241.0 503.0 236.2 503.4 232.9 503.8 232.1 504.2 233.3 504.6 235.7 505.0 238.8 505.4 241.8 505.8 244.2 506.2 245.4 506.6 245.0 507.0 243.2 507.4 240.3 507.8 236.5 508.2 232.4 508.6 228.1 509.0 223.9 509.4 220.4 509.8 217.6 510.2 216.1 510.6 215.6 511.0 215.1 511.4 214.8 511.8 214.5 512.2 214.2 512.6 214.0 513.0 213.9 513.4 213.9 513.8 214.5 514.2 215.9 514.6 217.9 515.0 220.5 515.4 223.6 515.8 227.2 516.2 231.1 516.6 235.3 517.0 239.7 517.4 244.2 517.8 248.8 518.2 253.3 518.6 257.7 519.0 262.0 519.4 266.0 519.8 269.6 520.2 272.9 520.6 275.6 521.0 277.8 521.4 279.3 521.8 280.1 522.2 279.7 522.6 276.4 523.0 271.1 523.4 265.1 523.8 259.7 524.2 256.2 524.6 255.5 525.0 255.3 525.4 255.2 525.8 255.1 526.2 254.8 526.6 253.8 527.0 252.3 527.4 250.2 527.8 247.6 528.2 244.7 528.6 241.5 529.0 238.2 529.4 234.8 529.8 231.3 530.2 228.0 530.6 224.8 531.0 222.0 531.4 219.4 531.8 217.4 532.2 215.8 532.6 214.9 533.0 214.8 533.4 216.3 533.8 219.7 534.2 224.4 534.6 230.1 535.0 236.4 535.4 243.0 535.8 249.3 536.2 255.0 536.6 259.7 537.0 263.1 537.4 264.6 537.8 264.1 538.2 261.8 538.6 257.9 539.0 252.5 539.4 246.1 539.8 238.6 540.2 230.5 540.6 221.9 541.0 213.1 541.4 204.3 541.8 195.7 542.2 187.5 542.6 180.0 543.0 172.6 543.4 164.5 543.8 156.1 544.2 147.3 544.6 138.5 545.0 129.7 545.4 121.2 545.8 113.1 546.2 105.6 546.6 98.9 547.0 93.0 547.4 88.3 547.8 84.4 548.2 80.6 548.6 77.0 549.0 73.4 549.4 70.1 549.8 67.1 550.2 64.5 550.6 62.3 551.0 60.6 551.4 59.4 551.8 58.9 552.2 59.3 552.6 61.2 553.0 64.5 553.4 69.0 553.8 74.6 554.2 81.1 554.6 88.5 555.0 96.6 555.4 105.2 555.8 114.2 556.2 123.6 556.6 133.1 557.0 142.6 557.4 152.0 557.8 161.1 558.2 169.8 558.6 178.0 559.0 186.6 559.4 196.9 559.8 206.8 560.2 214.3 560.6 217.4 561.0 218.7 561.4 219.7 561.8 220.5 562.2 220.9 562.6 221.0 563.0 220.7 563.4 220.1 563.8 219.6 564.2 219.1 564.6 219.1 565.0 220.3 565.4 223.0 565.8 226.8 566.2 231.5 566.6 236.8 567.0 242.4 567.4 248.1 567.8 253.6 568.2 258.7 568.6 263.0 569.0 266.2 569.4 268.2 569.8 268.6 570.2 267.4 570.6 264.7 571.0 260.7 571.4 255.7 571.8 250.0 572.2 243.7 572.6 237.1 573.0 230.5 573.4 224.0 573.8 218.0 574.2 212.6 574.6 208.1 575.0 204.7 575.4 202.7 575.8 202.2 576.2 202.8 576.6 204.0 577.0 205.9 577.4 208.3 577.8 211.1 578.2 214.2 578.6 217.6 579.0 221.2 579.4 224.9 579.8 228.6 580.2 232.2 580.6 235.7 581.0 238.9 581.4 241.8 581.8 244.3 582.2 246.3 582.6 247.7 583.0 248.4 583.4 248.4 583.8 247.5 584.2 245.8 584.6 243.5 585.0 240.8 585.4 237.7 585.8 234.6 586.2 231.5 586.6 228.6 587.0 226.1 587.4 224.1 587.8 222.8 588.2 222.3 588.6 222.3 589.0 222.4 589.4 222.5 589.8 222.6 590.2 222.8 590.6 222.9 591.0 223.1 591.4 223.4 591.8 224.6 592.2 227.1 592.6 230.6 593.0 234.9 593.4 240.1 593.8 245.8 594.2 252.0 594.6 258.5 595.0 265.2 595.4 271.8 595.8 278.2 596.2 284.4 596.6 290.0 597.0 295.1 597.4 299.3 597.8 302.7 598.2 304.9 598.6 306.0 599.0 305.7 599.4 304.2 599.8 301.7 600.2 298.2 600.6 293.8 601.0 288.5 601.4 282.5 601.8 275.9 602.2 268.7 602.6 261.1 603.0 253.0 603.4 244.6 603.8 236.0 604.2 227.2 604.6 218.3 605.0 209.5 605.4 200.8 605.8 192.3 606.2 184.0 606.6 175.7 607.0 165.6 607.4 153.9 607.8 141.4 608.2 128.7 608.6 116.5 609.0 105.6 609.4 96.7 609.8 90.4 610.2 87.4 610.6 87.9 611.0 90.5 611.4 94.7 611.8 99.9 612.2 105.8 612.6 111.8 613.0 117.6 613.4 122.6 613.8 126.4 614.2 128.5 614.6 128.7 615.0 128.2 615.4 127.6 615.8 127.3 616.2 128.3 616.6 131.1 617.0 135.4 617.4 140.9 617.8 147.4 618.2 154.7 618.6 162.4 619.0 170.3 619.4 178.1 619.8 186.7 620.2 197.7 620.6 208.9 621.0 217.8 621.4 224.7 621.8 230.8 622.2 234.9 622.6 236.7 623.0 237.8 623.4 238.6 623.8 239.5 624.2 241.1 624.6 244.1 625.0 248.2 625.4 253.0 625.8 257.8 626.2 262.1 626.6 265.8 627.0 270.0 627.4 274.2 627.8 278.0 628.2 281.1 628.6 283.0 629.0 283.4 629.4 281.8 629.8 278.4 630.2 274.1 630.6 269.4 631.0 265.0 631.4 260.8 631.8 256.4 632.2 251.7 632.6 246.8 633.0 241.7 633.4 236.0 633.8 229.0 634.2 221.4 634.6 213.7 635.0 206.6 635.4 201.0 635.8 197.5 636.2 196.7 636.6 198.3 637.0 201.6 637.4 206.2 637.8 211.5 638.2 217.0 638.6 222.2 639.0 226.6 639.4 229.8 639.8 232.9 640.2 235.7 640.6 238.1 641.0 239.7 641.4 240.7 641.8 241.4 642.2 242.0 642.6 242.6 643.0 243.4 643.4 244.6 643.8 246.2 644.2 248.1 644.6 250.1 645.0 252.1 645.4 254.1 645.8 255.8 646.2 257.2 646.6 258.2 647.0 258.5 647.4 258.1 647.8 256.9 648.2 255.1 648.6 252.8 649.0 250.0 649.4 246.9 649.8 243.6 650.2 240.2 650.6 236.9 651.0 233.6 651.4 230.6 651.8 227.9 652.2 225.7 652.6 224.0 653.0 223.0 653.4 222.8 653.8 223.4 654.2 224.6 654.6 226.4 655.0 228.7 655.4 231.5 655.8 234.6 656.2 238.0 656.6 241.5 657.0 245.2 657.4 249.0 657.8 254.9 658.2 262.7 658.6 271.5 659.0 280.1 659.4 287.6 659.8 292.8 660.2 294.8 660.6 293.2 661.0 289.0 661.4 282.6 661.8 274.8 662.2 266.1 662.6 257.2 663.0 248.7 663.4 241.2 663.8 235.4 664.2 231.7 664.6 229.0 665.0 226.6 665.4 224.6 665.8 222.7 666.2 221.0 666.6 219.4 667.0 217.7 667.4 216.0 667.8 214.4 668.2 213.0 668.6 211.5 669.0 209.5 669.4 206.6 669.8 202.5 670.2 197.7 670.6 192.2 671.0 186.4 671.4 180.5 671.8 174.8 672.2 169.5 672.6 164.5 673.0 159.5 673.4 154.6 673.8 149.7 674.2 144.7 674.6 139.7 675.0 134.6 675.4 129.4 675.8 124.2 676.2 118.7 676.6 112.9 677.0 107.0 677.4 101.1 677.8 95.6 678.2 90.3 678.6 84.5 679.0 80.3 679.4 80.0 679.8 82.4 680.2 87.0 680.6 93.3 681.0 101.1 681.4 110.1 681.8 119.9 682.2 130.2 682.6 140.7 683.0 151.1 683.4 161.0 683.8 170.2 684.2 178.2 684.6 185.4 685.0 192.9 685.4 200.7 685.8 208.8 686.2 217.1 686.6 225.4 687.0 233.7 687.4 242.0 687.8 250.2 688.2 258.1 688.6 265.8 689.0 273.2 689.4 280.1 689.8 286.5 690.2 292.3 690.6 297.4 691.0 301.9 691.4 305.5 691.8 308.3 692.2 310.2 692.6 311.0 693.0 310.6 693.4 309.1 693.8 306.5 694.2 302.8 694.6 298.3 695.0 292.9 695.4 286.9 695.8 280.2 696.2 273.0 696.6 265.5 697.0 257.6 697.4 249.5 697.8 241.4 698.2 233.2 698.6 225.1 699.0 217.3 699.4 209.7 699.8 202.5 700.2 195.9 700.6 189.9 701.0 184.5 701.4 180.0 701.8 175.5 702.2 172.0 702.6 171.5 703.0 172.6 703.4 174.5 703.8 177.1 704.2 180.1 704.6 183.4 705.0 186.8 705.4 190.0 705.8 193.5 706.2 197.9 706.6 202.9 707.0 208.4 707.4 214.1 707.8 220.0 708.2 225.8 708.6 231.3 709.0 236.5 709.4 241.0 709.8 244.8 710.2 247.5 710.6 249.2 711.0 249.6 711.4 249.0 711.8 247.8 712.2 246.0 712.6 243.9 713.0 241.4 713.4 238.9 713.8 236.2 714.2 233.7 714.6 231.4 715.0 229.4 715.4 227.9 715.8 227.0 716.2 226.8 716.6 227.8 717.0 229.8 717.4 232.8 717.8 236.6 718.2 241.2 718.6 246.3 719.0 251.8 719.4 257.7 719.8 263.6 720.2 269.6 720.6 275.5 721.0 281.2 721.4 286.4 721.8 291.1 722.2 295.1 722.6 298.3 723.0 300.6 723.4 301.8 723.8 301.9 724.2 301.3 724.6 300.1 725.0 298.4 725.4 296.2 725.8 293.5 726.2 290.4 726.6 286.9 727.0 283.0 727.4 278.7 727.8 274.2 728.2 269.3 728.6 264.2 729.0 259.0 729.4 253.5 729.8 247.9 730.2 242.2 730.6 236.4 731.0 230.5 731.4 224.7 731.8 218.7 732.2 210.9 732.6 201.2 733.0 190.6 733.4 180.3 733.8 171.4 734.2 164.8 734.6 161.1 735.0 158.6 735.4 158.5 735.8 159.8 736.2 160.4 736.6 159.5 737.0 157.9 737.4 155.8 737.8 153.5 738.2 151.4 738.6 149.1 739.0 146.2 739.4 143.3 739.8 140.9 740.2 139.5 740.6 139.5 741.0 141.2 741.4 143.8 741.8 146.8 742.2 149.3 742.6 150.8 743.0 151.6 743.4 152.3 743.8 152.8 744.2 153.2 744.6 154.5 745.0 159.7 745.4 167.6 745.8 176.4 746.2 184.3 746.6 189.5 747.0 191.2 747.4 192.3 747.8 194.1 748.2 197.1 748.6 201.0 749.0 205.7 749.4 210.8 749.8 216.1 750.2 221.3 750.6 226.2 751.0 231.3 751.4 236.6 751.8 242.0 752.2 247.3 752.6 252.5 753.0 257.6 753.4 263.6 753.8 269.4 754.2 273.8 754.6 275.6 755.0 274.7 755.4 272.2 755.8 268.3 756.2 263.6 756.6 258.2 757.0 252.6 757.4 247.0 757.8 241.8 758.2 237.3 758.6 233.8 759.0 231.8 759.4 231.2 759.8 231.0 760.2 230.9 760.6 230.8 761.0 230.5 761.4 230.1 761.8 228.4 762.2 225.6 762.6 221.9 763.0 217.5 763.4 212.5 763.8 207.2 764.2 201.7 764.6 196.4 765.0 191.3 765.4 186.7 765.8 182.7 766.2 179.7 766.6 177.7 767.0 177.0 767.4 178.4 767.8 182.4 768.2 188.2 768.6 195.4 769.0 203.4 769.4 211.6 769.8 219.5 770.2 226.4 770.6 231.8 771.0 235.2 771.4 236.0 771.8 235.3 772.2 233.8 772.6 231.9 773.0 229.5 773.4 227.0 773.8 224.6 774.2 222.4 774.6 220.7 775.0 219.6 775.4 219.3 775.8 219.4 776.2 219.8 776.6 220.2 777.0 220.8 777.4 221.5 777.8 222.3 778.2 223.1 778.6 224.1 779.0 225.5 779.4 227.3 779.8 229.4 780.2 231.9 780.6 234.6 781.0 237.6 781.4 240.8 781.8 244.1 782.2 247.6 782.6 251.7 783.0 257.4 783.4 264.3 783.8 272.2 784.2 280.5 784.6 288.8 785.0 296.8 785.4 304.0 785.8 310.0 786.2 314.4 786.6 316.8 787.0 317.0 787.4 316.6 787.8 315.9 788.2 314.7 788.6 313.2 789.0 311.4 789.4 309.3 789.8 307.0 790.2 304.4 790.6 300.8 791.0 292.4 791.4 280.1 791.8 265.8 792.2 251.3 792.6 238.4 793.0 228.8 793.4 224.3 793.8 222.1 794.2 220.3 794.6 218.9 795.0 217.6 795.4 216.1 795.8 214.8 796.2 213.6 796.6 212.5 797.0 211.3 797.4 209.8 797.8 208.1 798.2 205.8 798.6 202.8 799.0 199.2 799.4 194.9 799.8 190.2 800.2 185.0 800.6 179.4 801.0 172.2 801.4 163.2 801.8 153.8 802.2 145.7 802.6 139.2 803.0 132.9 803.4 127.4 803.8 123.3 804.2 121.1 804.6 119.9 805.0 119.0 805.4 118.5 805.8 119.1 806.2 121.7 806.6 125.4 807.0 129.8 807.4 134.4 807.8 140.2 808.2 147.2 808.6 154.9 809.0 162.8 809.4 170.5 809.8 178.1 810.2 186.1 810.6 194.4 811.0 202.8 811.4 211.1 811.8 219.3 812.2 227.2 812.6 234.7 813.0 241.7 813.4 249.0 813.8 256.6 814.2 264.5 814.6 272.3 815.0 279.9 815.4 287.1 815.8 293.6 816.2 299.3 816.6 303.8 817.0 307.0 817.4 308.8 817.8 308.9 818.2 307.8 818.6 305.7 819.0 302.6 819.4 298.8 819.8 294.1 820.2 288.9 820.6 283.0 821.0 276.6 821.4 269.8 821.8 262.7 822.2 255.3 822.6 247.8 823.0 240.2 823.4 232.6 823.8 225.1 824.2 217.8 824.6 210.8 825.0 204.1 825.4 197.8 825.8 192.1 826.2 186.9 826.6 182.5 827.0 178.8 827.4 176.0 827.8 174.2 828.2 173.3 828.6 174.2 829.0 178.1 829.4 184.2 829.8 191.8 830.2 200.3 830.6 208.8 831.0 216.6 831.4 223.0 831.8 227.3 832.2 229.1 832.6 230.5 833.0 231.7 833.4 232.8 833.8 233.8 834.2 234.7 834.6 235.4 835.0 235.9 835.4 236.3 835.8 236.5 836.2 236.4 836.6 236.1 837.0 235.4 837.4 234.6 837.8 233.7 838.2 232.9 838.6 232.3 839.0 232.0 839.4 232.7 839.8 235.3 840.2 239.5 840.6 244.5 841.0 249.7 841.4 254.6 841.8 258.6 842.2 261.1 842.6 262.7 843.0 263.9 843.4 265.0 843.8 266.1 844.2 267.4 844.6 269.2 845.0 271.9 845.4 275.5 845.8 279.7 846.2 284.2 846.6 288.8 847.0 293.1 847.4 296.8 847.8 299.8 848.2 301.6 848.6 302.0 849.0 301.0 849.4 298.8 849.8 295.6 850.2 291.6 850.6 286.8 851.0 281.4 851.4 275.7 851.8 269.7 852.2 263.6 852.6 257.6 853.0 251.7 853.4 246.3 853.8 241.3 854.2 237.1 854.6 233.6 855.0 231.2 855.4 229.8 855.8 228.9 856.2 228.1 856.6 227.4 857.0 226.6 857.4 225.4 857.8 223.9 858.2 222.2 858.6 220.2 859.0 217.9 859.4 215.3 859.8 211.8 860.2 207.5 860.6 202.6 861.0 197.2 861.4 191.6 861.8 185.3 862.2 178.3 862.6 170.7 863.0 162.8 863.4 154.6 863.8 146.5 864.2 138.5 864.6 129.3 865.0 119.4 865.4 109.9 865.8 102.0 866.2 97.0 866.6 93.9 867.0 91.4 867.4 90.2 867.8 90.5 868.2 92.1 868.6 94.8 869.0 98.4 869.4 102.4 869.8 106.8 870.2 111.4 870.6 117.4 871.0 124.9 871.4 133.3 871.8 142.1 872.2 150.6 872.6 159.1 873.0 167.9 873.4 177.1 873.8 186.5 874.2 195.9 874.6 205.3 875.0 214.5 875.4 223.5 875.8 232.0 876.2 240.0 876.6 248.0 877.0 256.6 877.4 265.5 877.8 274.5 878.2 283.4 878.6 292.0 879.0 300.1 879.4 307.6 879.8 314.1 880.2 319.5 880.6 323.7 881.0 326.3 881.4 327.2 881.8 326.4 882.2 324.3 882.6 320.8 883.0 316.1 883.4 310.5 883.8 304.0 884.2 296.7 884.6 288.8 885.0 280.5 885.4 271.8 885.8 263.0 886.2 254.1 886.6 245.3 887.0 236.7 887.4 228.5 887.8 220.7 888.2 213.6 888.6 207.3 889.0 201.9 889.4 197.5 889.8 194.4 890.2 192.5 890.6 192.2 891.0 193.8 891.4 197.2 891.8 202.1 892.2 207.9 892.6 214.2 893.0 220.6 893.4 226.7 893.8 232.1 894.2 236.3 894.6 238.9 895.0 239.5 895.4 239.0 895.8 237.8 896.2 236.2 896.6 234.0 897.0 231.5 897.4 228.6 897.8 225.5 898.2 222.3 898.6 218.9 899.0 215.5 899.4 212.1 899.8 208.9 900.2 205.8 900.6 203.0 901.0 200.6 901.4 198.6 901.8 197.0 902.2 196.0 902.6 195.7 903.0 196.3 903.4 198.0 903.8 200.8 904.2 204.5 904.6 209.0 905.0 214.3 905.4 220.2 905.8 226.6 906.2 233.4 906.6 240.6 907.0 248.0 907.4 255.5 907.8 263.1 908.2 270.5 908.6 277.8 909.0 284.8 909.4 291.5 909.8 297.7 910.2 303.2 910.6 308.1 911.0 312.3 911.4 315.5 911.8 317.8 912.2 318.9 912.6 318.7 913.0 315.6 913.4 310.2 913.8 303.0 914.2 294.9 914.6 286.5 915.0 278.4 915.4 271.5 915.8 265.5 916.2 258.9 916.6 252.5 917.0 246.7 917.4 242.3 917.8 240.0 918.2 239.2 918.6 238.6 919.0 238.2 919.4 237.7 919.8 236.7 920.2 234.2 920.6 230.2 921.0 225.4 921.4 220.2 921.8 215.2 922.2 211.0 922.6 207.2 923.0 203.5 923.4 199.8 923.8 195.7 924.2 191.1 924.6 185.7 925.0 178.2 925.4 168.3 925.8 157.4 926.2 146.8 926.6 137.8 927.0 131.3 927.4 125.4 927.8 120.7 928.2 118.0 928.6 116.7 929.0 115.6 929.4 115.1 929.8 115.1 930.2 115.9 930.6 117.2 931.0 118.8 931.4 120.4 931.8 122.3 932.2 124.6 932.6 127.3 933.0 130.4 933.4 133.8 933.8 137.8 934.2 142.4 934.6 147.5 935.0 153.1 935.4 159.0 935.8 165.3 936.2 171.7 936.6 178.4 937.0 185.9 937.4 194.1 937.8 202.9 938.2 212.2 938.6 221.7 939.0 231.3 939.4 240.9 939.8 250.3 940.2 259.4 940.6 268.0 941.0 276.6 941.4 286.3 941.8 296.3 942.2 305.6 942.6 313.1 943.0 317.9 943.4 319.0 943.8 317.3 944.2 313.5 944.6 308.1 945.0 301.5 945.4 294.1 945.8 286.5 946.2 278.8 946.6 271.7 947.0 265.5 947.4 260.6 947.8 256.5 948.2 252.3 948.6 248.0 949.0 243.8 949.4 239.6 949.8 235.4 950.2 231.4 950.6 227.5 951.0 223.8 951.4 220.3 951.8 217.1 952.2 214.1 952.6 211.5 953.0 209.2 953.4 207.3 953.8 205.8 954.2 204.8 954.6 204.3 955.0 204.3 955.4 205.1 955.8 206.7 956.2 209.0 956.6 211.9 957.0 215.5 957.4 219.7 957.8 224.5 958.2 229.8 958.6 235.5 959.0 241.7 959.4 248.3 959.8 255.2 960.1 260.6" fill="none" stroke="#4052AE" stroke-width="1.6" stroke-linejoin="round"/><g font-family="Liberation Serif, serif" font-size="35.5" fill="#262626" stroke="#262626" stroke-width="0.3"><text x="111.70" y="743.5" text-anchor="middle" transform="translate(111.70 0) scale(0.9 1) translate(-111.70 0)">0</text><text x="236.54" y="743.5" text-anchor="middle" transform="translate(236.54 0) scale(0.9 1) translate(-236.54 0)">2</text><text x="361.38" y="743.5" text-anchor="middle" transform="translate(361.38 0) scale(0.9 1) translate(-361.38 0)">4</text><text x="486.22" y="743.5" text-anchor="middle" transform="translate(486.22 0) scale(0.9 1) translate(-486.22 0)">6</text><text x="611.06" y="743.5" text-anchor="middle" transform="translate(611.06 0) scale(0.9 1) translate(-611.06 0)">8</text><text x="735.90" y="743.5" text-anchor="middle" transform="translate(735.90 0) scale(0.9 1) translate(-735.90 0)">10</text><text x="860.74" y="743.5" text-anchor="middle" transform="translate(860.74 0) scale(0.9 1) translate(-860.74 0)">12</text><text x="985.58" y="743.5" text-anchor="middle" transform="translate(985.58 0) scale(0.9 1) translate(-985.58 0)">14</text><text x="98.6" y="712.60" text-anchor="end" transform="translate(98.6 0) scale(0.9 1) translate(-98.6 0)">0</text><text x="98.6" y="597.76" text-anchor="end" transform="translate(98.6 0) scale(0.9 1) translate(-98.6 0)">0.05</text><text x="98.6" y="482.93" text-anchor="end" transform="translate(98.6 0) scale(0.9 1) translate(-98.6 0)">0.1</text><text x="98.6" y="368.10" text-anchor="end" transform="translate(98.6 0) scale(0.9 1) translate(-98.6 0)">0.15</text><text x="98.6" y="253.26" text-anchor="end" transform="translate(98.6 0) scale(0.9 1) translate(-98.6 0)">0.2</text><text x="98.6" y="138.43" text-anchor="end" transform="translate(98.6 0) scale(0.9 1) translate(-98.6 0)">0.25</text><text x="98.6" y="23.59" text-anchor="end" transform="translate(98.6 0) scale(0.9 1) translate(-98.6 0)">0.3</text></g><text x="546" y="787.7" text-anchor="middle" font-family="Liberation Serif, serif" font-size="37.5" fill="#262626" stroke="#262626" stroke-width="0.35" transform="translate(546 0) scale(0.94 1) translate(-546 0)">Time (s)</text><text x="0" y="0" text-anchor="middle" font-family="Liberation Serif, serif" font-size="36.5" fill="#262626" stroke="#262626" stroke-width="0.35" transform="translate(27.8 357) rotate(-90) scale(0.97 1)">Speed (m/s)</text><path d="M604.8 393.9H685.5" stroke="#D94A2C" stroke-width="1.6"/><path d="M604.8 433.8H685.5" stroke="#4052AE" stroke-width="1.6"/><text x="689.7" y="405.5" font-family="Liberation Serif, serif" font-size="35.5" fill="#000" stroke="#000" stroke-width="0.4" transform="translate(689.7 0) scale(0.915 1) translate(-689.7 0)">Simulation data</text><text x="691" y="445.5" font-family="Liberation Serif, serif" font-size="35.5" fill="#000" stroke="#000" stroke-width="0.4" transform="translate(691 0) scale(0.905 1) translate(-691 0)">Experimental data</text></svg></body></html>
